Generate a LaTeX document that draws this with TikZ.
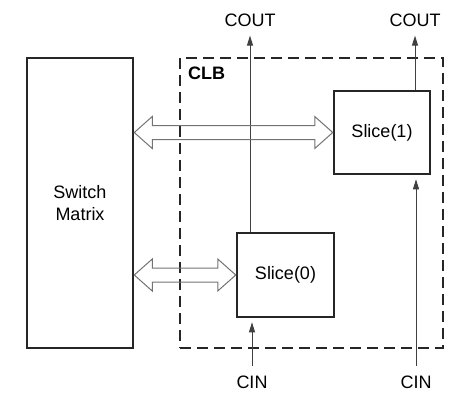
\documentclass[tikz,border=0pt]{standalone}
\usepackage{fontspec}
\setmainfont{Liberation Sans}
\usetikzlibrary{calc,arrows.meta}

\begin{document}
\begin{tikzpicture}[x=1pt,y=-1pt]

\tikzset{block/.style   = {draw=black!85, line width=2.5pt, fill=white,
                           font=\fontsize{18}{22}\selectfont, align=center},
         clbbox/.style  = {draw=black!85, line width=2.5pt,
                           dash pattern=on 11pt off 6pt},
         pin/.style     = {font=\fontsize{18}{22}\selectfont, inner sep=0pt},
         sig/.style     = {draw=black!75, line width=1pt,
                           -{Triangle[length=10pt,width=6pt]}},
         bus/.style     = {draw=black!55, line width=1pt, line join=miter}}

  \useasboundingbox (0,0) rectangle (474,405);

%%% switch matrix and CLB frame
   \node[block, minimum width=106pt, minimum height=290pt] (SM) at (80,203) {Switch\\Matrix};
   \node[clbbox, minimum width=263pt, minimum height=290pt] (CLB) at (311.5,203) {};
   \node[pin, font=\bfseries\fontsize{18}{22}\selectfont, anchor=north west] (CLBname) at (188,67) {CLB};

%%% slices
   \node[block, minimum width=96pt, minimum height=83pt] (S1) at (382,132.5) {Slice(1)};
   \node[block, minimum width=97pt, minimum height=84pt] (S0) at (285.5,275) {Slice(0)};

%%% carry pins
   \node[pin] (COUT0) at (250,20)  {COUT};
   \node[pin] (COUT1) at (415,20)  {COUT};
   \node[pin] (CIN0)  at (252,382) {CIN};
   \node[pin] (CIN1)  at (416,382) {CIN};

   \draw[sig, shorten >=9pt] (S0.north -| COUT0) -- (COUT0);
   \draw[sig, shorten >=9pt] (S1.north -| COUT1) -- (COUT1);
   \draw[sig, shorten <=9pt, shorten >=4pt] (CIN0) -- (CIN0 |- S0.south);
   \draw[sig, shorten <=9pt, shorten >=4pt] (CIN1) -- (CIN1 |- S1.south);

%%% buses to the switch matrix (hollow double arrows)
   \foreach \s in {S1,S0}
     \draw[bus] let \p1 = (SM.east |- \s.west), \p2 = (\s.west) in
       (\p1) -- (\x1+18pt,\y1+16pt) -- (\x1+18pt,\y1+7pt)
             -- (\x2-18pt,\y1+7pt)  -- (\x2-18pt,\y1+16pt) -- (\p2)
             -- (\x2-18pt,\y1-16pt) -- (\x2-18pt,\y1-7pt)
             -- (\x1+18pt,\y1-7pt)  -- (\x1+18pt,\y1-16pt) -- cycle;

\end{tikzpicture}
\end{document}
